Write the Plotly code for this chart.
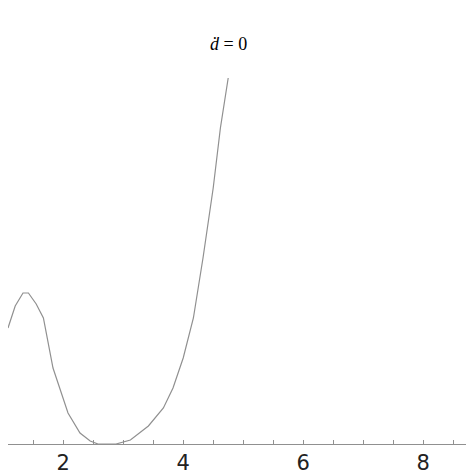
import plotly.graph_objects as go

# curve d-dot = 0
x = [1.08, 1.2, 1.33, 1.42, 1.55, 1.67, 1.83, 1.95, 2.08, 2.28, 2.45, 2.58, 2.88, 3.12,
     3.42, 3.67, 3.83, 4.0, 4.17, 4.33, 4.5, 4.62, 4.75]
y = [1.16, 1.38, 1.51, 1.51, 1.40, 1.26, 0.76, 0.55, 0.31, 0.11, 0.03, 0.0, 0.0, 0.04,
     0.18, 0.36, 0.56, 0.86, 1.26, 1.86, 2.56, 3.16, 3.66]

tick_vals = [i * 0.5 for i in range(2, 19)]
tick_text = [str(int(v)) if v in (2, 4, 6, 8) else "" for v in tick_vals]

fig = go.Figure()
fig.add_trace(go.Scatter(x=x, y=y, mode="lines", line=dict(color="#909090", width=1.2),
                         hoverinfo="skip"))
fig.add_annotation(x=4.75, y=4.0, text="<i>ḋ</i> = 0", showarrow=False,
                   font=dict(family="Liberation Serif", size=18, color="black"))

fig.update_layout(
    width=474, height=474, plot_bgcolor="white", paper_bgcolor="white",
    margin=dict(l=0, r=0, t=0, b=38, autoexpand=False), showlegend=False,
    xaxis=dict(range=[1.08, 8.98], tickvals=tick_vals, ticktext=tick_text,
               ticks="inside", ticklen=4, tickcolor="#909090", showgrid=False,
               zeroline=False, showline=True, linecolor="#909090", automargin=False,
               tickfont=dict(family="DejaVu Sans", size=21, color="#222")),
    yaxis=dict(range=[0, 4.36], visible=False, automargin=False),
)
fig.write_html("out.html")
